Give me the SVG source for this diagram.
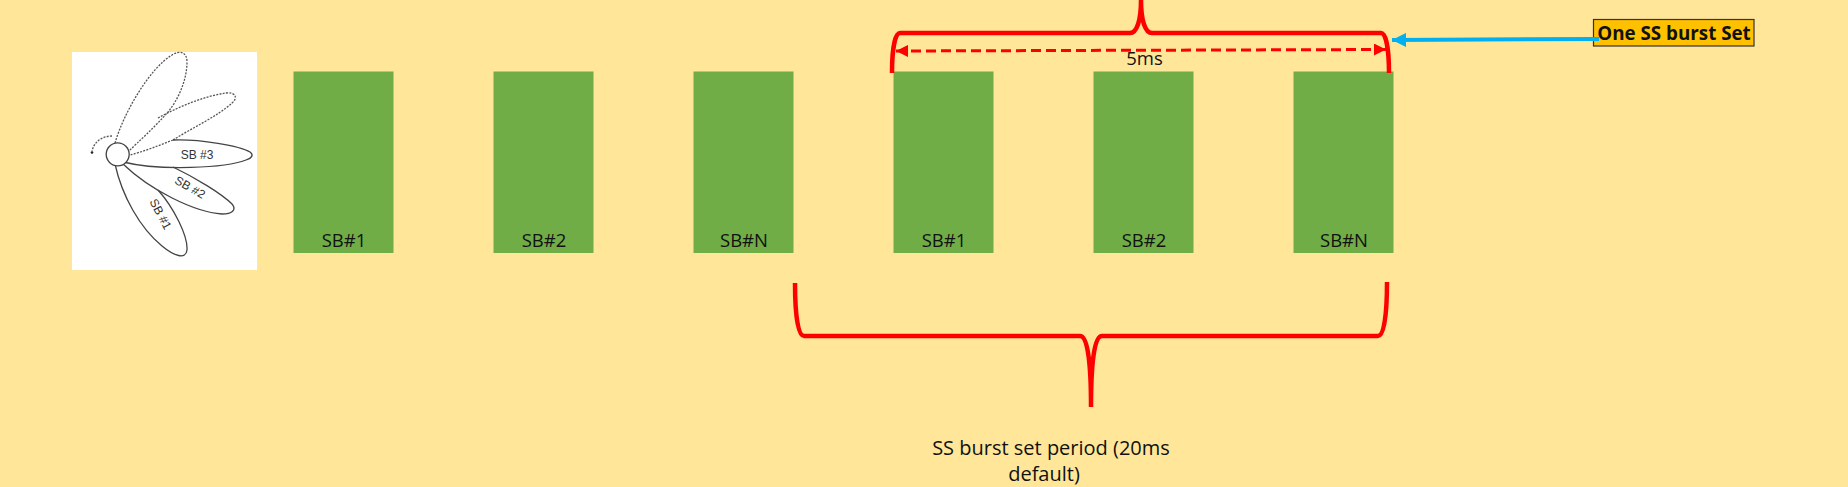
<svg xmlns="http://www.w3.org/2000/svg" width="1848" height="487" viewBox="0 0 1848 487">
<style>
.sb{fill:#70ad47}
.t{font-family:"Open Sans","Noto Sans",sans-serif;font-size:18.500px;fill:#111;text-anchor:middle}
.p{font-size:20px}
.brace{fill:none;stroke:#ff0000;stroke-width:4.500}
.lobe{fill:none;stroke:#444;stroke-width:1.300}
.dash{fill:none;stroke:#555;stroke-width:1.300;stroke-dasharray:2 1.300}
.bt{font-family:"Liberation Sans",Arial,sans-serif;font-size:12px;fill:#333;text-anchor:middle}
</style>
<defs>
<marker id="ah" markerUnits="userSpaceOnUse" markerWidth="13" markerHeight="12" refX="12" refY="6" orient="auto-start-reverse"><path d="M0 0L12 6L0 12Z" fill="#ff0000"/></marker>
<marker id="ab" markerUnits="userSpaceOnUse" markerWidth="15" markerHeight="14" refX="14" refY="7" orient="auto"><path d="M0 0L14 7L0 14Z" fill="#00b0f0"/></marker>
</defs>
<rect width="1848" height="487" fill="#ffe699"/>
<g id="beam-picture">
<rect x="72" y="52" width="185" height="218" fill="#fff"/>
<path class="dash" d="M115 143C124 112 150 68 172 55C180 50 187 52 187 62C187 80 178 100 168 112C154 128 138 142 129 151"/>
<path class="dash" d="M158 118C180 106 205 96 226 93C236 92 238 98 232 103C218 116 192 128 173 140"/>
<path class="dash" d="M173 140C158 146 142 152 130 155"/>
<path class="lobe" d="M173 140C200 139 240 146 250 152C254 155 252 158 246 160C226 168 160 171 123 162"/>
<path class="lobe" d="M173 167C196 178 222 194 232 204C237 210 232 214 222 214C194 212 150 190 123 164"/>
<path class="lobe" d="M115 164C122 196 140 228 162 246C174 256 186 260 187 250C188 236 174 208 158 190"/>
<circle cx="117.700" cy="154.300" r="11.500" fill="#fff" stroke="#444" stroke-width="1.300"/>
<path class="dash" d="M112 136C102 136 94 142 92 151"/>
<circle cx="92" cy="152.500" r="1.300" fill="#222"/>
<text class="bt" transform="translate(197 158.500)">SB #3</text>
<text class="bt" transform="translate(188 191) rotate(30)">SB #2</text>
<text class="bt" transform="translate(157 216) rotate(62)">SB #1</text>
</g>
<g id="sb1"><rect class="sb" x="293.500" y="71.500" width="100" height="181.500"/><text class="t" x="344" y="247">SB#1</text></g>
<g id="sb2"><rect class="sb" x="493.500" y="71.500" width="100" height="181.500"/><text class="t" x="544" y="247">SB#2</text></g>
<g id="sbn"><rect class="sb" x="693.500" y="71.500" width="100" height="181.500"/><text class="t" x="744" y="247">SB#N</text></g>
<g id="sb1b"><rect class="sb" x="893.500" y="71.500" width="100" height="181.500"/><text class="t" x="944" y="247">SB#1</text></g>
<g id="sb2b"><rect class="sb" x="1093.500" y="71.500" width="100" height="181.500"/><text class="t" x="1144" y="247">SB#2</text></g>
<g id="sbnb"><rect class="sb" x="1293.500" y="71.500" width="100" height="181.500"/><text class="t" x="1344" y="247">SB#N</text></g>
<g id="label-5ms"><text class="t" x="1144.500" y="65">5ms</text></g>
<g id="label-burst"><rect x="1593.500" y="19.500" width="160.500" height="26.500" fill="#ffc000" stroke="#333" stroke-width="1.200"/><text class="t" x="1674" y="40" style="font-weight:700;font-size:18.800px">One SS burst Set</text></g>
<g id="label-period"><text class="t p" x="1051" y="455">SS burst set period (20ms</text><text class="t p" x="1044" y="481">default)</text></g>
<g id="connectors">
<path class="brace" d="M892 73C892 50 895 33 900 33L1130 33C1137 33 1141 20 1141 0C1141 20 1145 33 1152 33L1381 33C1386 33 1389 50 1389 73"/>
<path class="brace" d="M795 283C795 315 798 336 804 336L1080 336C1088 336 1091 365 1091 407C1091 365 1094 336 1102 336L1378 336C1384 336 1387 315 1387 282"/>
<line x1="896" y1="51" x2="1386" y2="49.500" stroke="#ff0000" stroke-width="3" stroke-dasharray="10 5" marker-start="url(#ah)" marker-end="url(#ah)"/>
<line x1="1599" y1="39" x2="1392" y2="40" stroke="#00b0f0" stroke-width="4" marker-end="url(#ab)"/>
</g>
</svg>
